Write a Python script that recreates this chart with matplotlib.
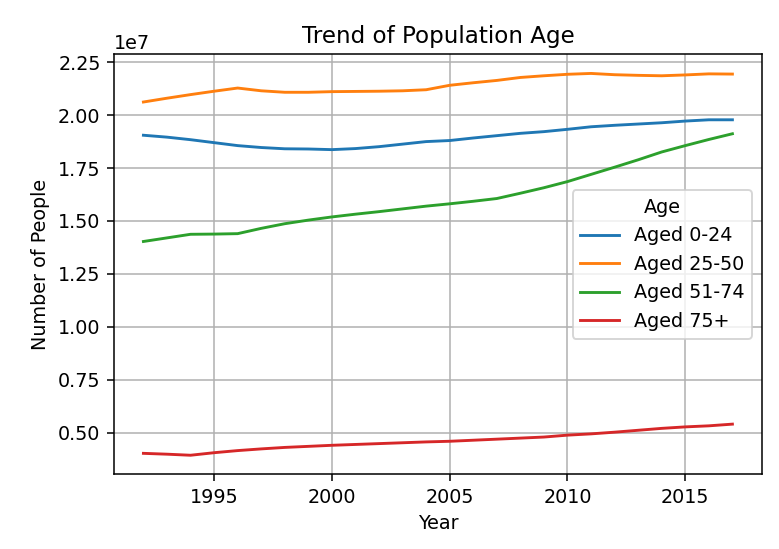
import matplotlib
matplotlib.use('Agg')
import matplotlib.pyplot as plt
import numpy as np

# data (jumlah penduduk per kelompok umur)
years = list(range(1992, 2018))

aged_0_24 = [1.905, 1.896, 1.884, 1.870, 1.856, 1.847, 1.841, 1.840, 1.837, 1.842,
             1.851, 1.863, 1.875, 1.880, 1.892, 1.903, 1.914, 1.922, 1.933, 1.945,
             1.952, 1.958, 1.964, 1.972, 1.978, 1.978]
aged_25_50 = [2.062, 2.080, 2.097, 2.113, 2.128, 2.115, 2.108, 2.108, 2.111, 2.112,
              2.113, 2.115, 2.120, 2.141, 2.153, 2.164, 2.178, 2.186, 2.193, 2.197,
              2.191, 2.188, 2.186, 2.190, 2.195, 2.194]
aged_51_74 = [1.403, 1.420, 1.437, 1.438, 1.440, 1.465, 1.487, 1.504, 1.519, 1.532,
              1.544, 1.557, 1.570, 1.581, 1.593, 1.606, 1.631, 1.657, 1.686, 1.720,
              1.754, 1.789, 1.826, 1.856, 1.885, 1.912]
aged_75 = [0.402, 0.398, 0.393, 0.405, 0.415, 0.423, 0.430, 0.435, 0.440, 0.444,
           0.448, 0.452, 0.456, 0.459, 0.464, 0.469, 0.474, 0.479, 0.488, 0.494,
           0.502, 0.511, 0.520, 0.527, 0.532, 0.540]

labels = ['Aged 0-24', 'Aged 25-50', 'Aged 51-74', 'Aged 75+']
series = [aged_0_24, aged_25_50, aged_51_74, aged_75]

dpi = 138
fig = plt.figure(figsize=(779 / dpi, 549 / dpi), dpi=dpi)
ax = fig.add_axes([0.1463, 0.136, 0.978 - 0.1463, 0.901 - 0.136])

for vals, lab in zip(series, labels):
    ax.plot(years, np.array(vals) * 1e7, label=lab)

ax.set_title('Trend of Population Age')
ax.set_xlabel('Year')
ax.set_ylabel('Number of People')
ax.grid(True)
ax.legend(title='Age', loc='center right')

plt.savefig('out.png', dpi=dpi)
plt.close()
